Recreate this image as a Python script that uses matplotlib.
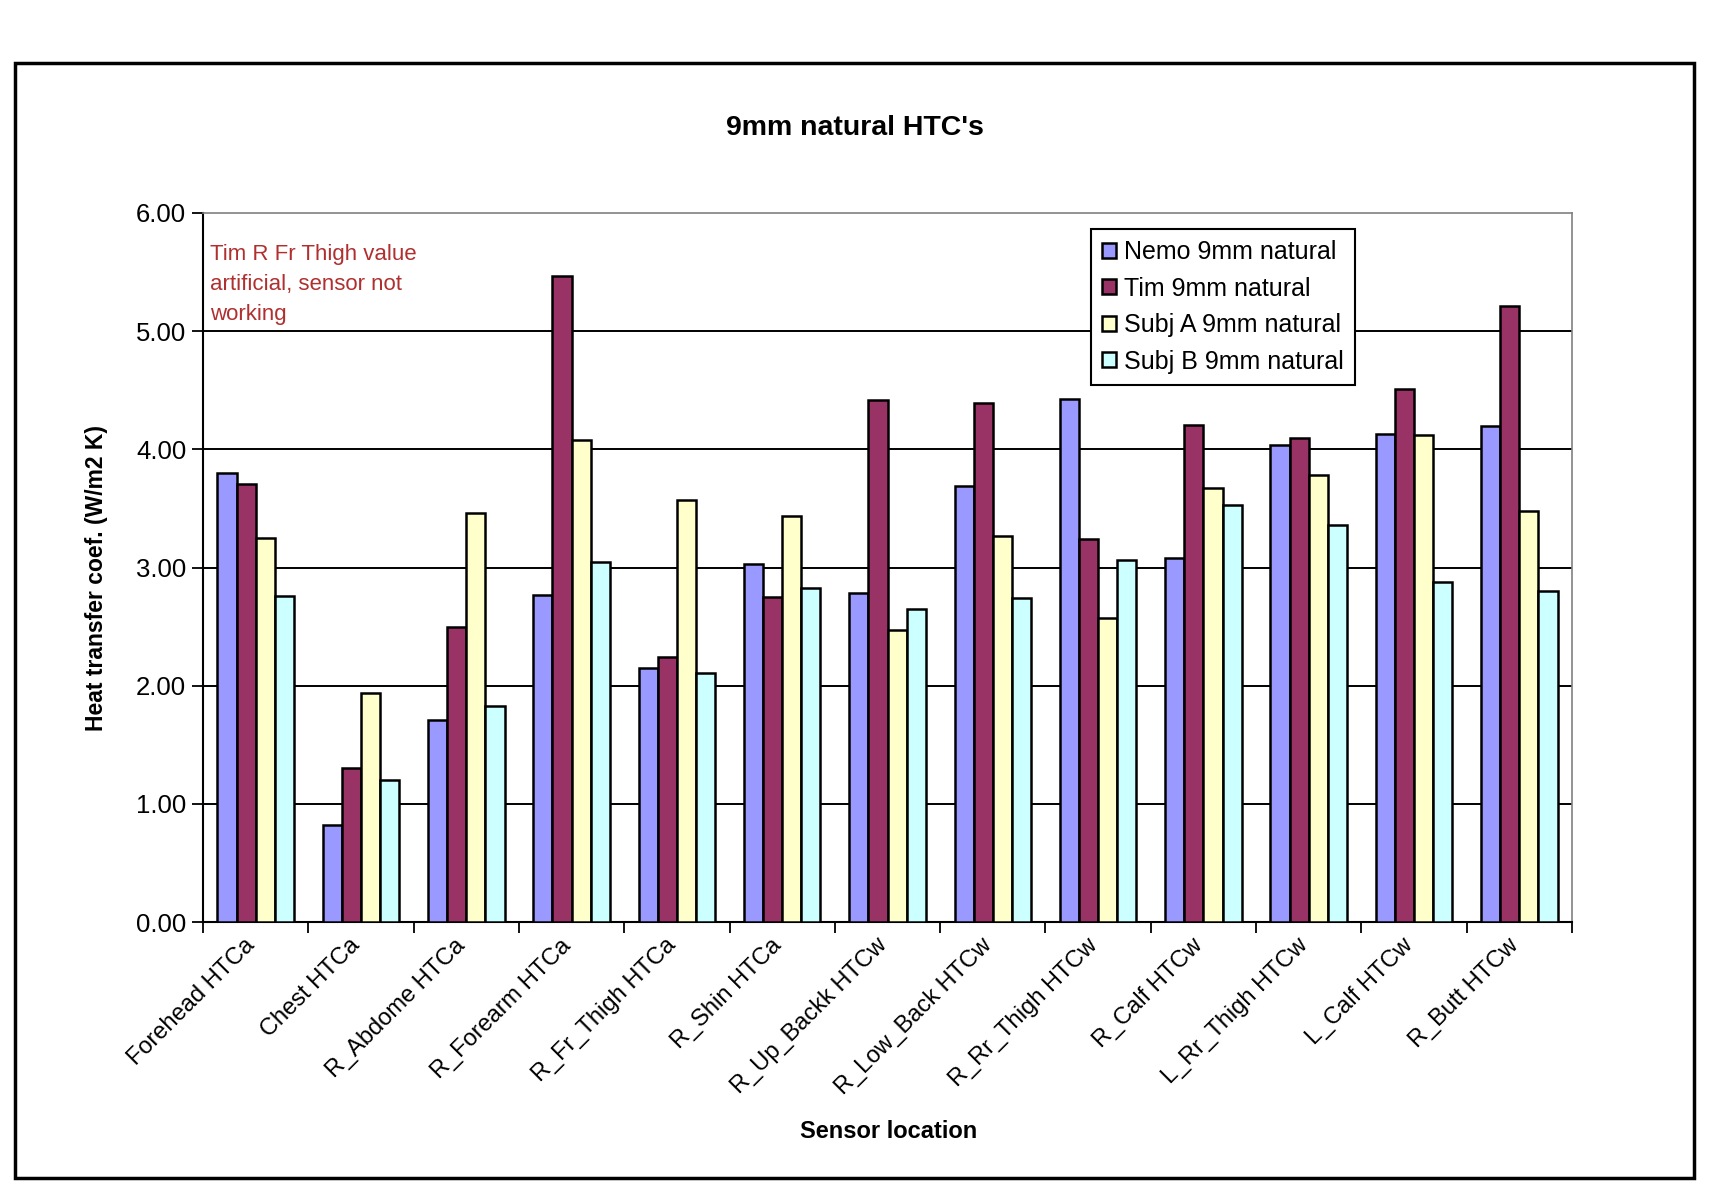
import matplotlib
matplotlib.use("Agg")
import matplotlib.pyplot as plt
import matplotlib.transforms as mtransforms
import numpy as np
from matplotlib.patches import Rectangle

categories = ["Forehead HTCa", "Chest HTCa", "R_Abdome HTCa", "R_Forearm HTCa",
              "R_Fr_Thigh HTCa", "R_Shin HTCa", "R_Up_Backk HTCw", "R_Low_Back HTCw",
              "R_Rr_Thigh HTCw", "R_Calf HTCw", "L_Rr_Thigh HTCw", "L_Calf HTCw",
              "R_Butt HTCw"]
nemo = [3.80, 0.82, 1.71, 2.77, 2.15, 3.03, 2.78, 3.69, 4.43, 3.08, 4.04, 4.13, 4.20]
tim = [3.71, 1.30, 2.50, 5.47, 2.24, 2.75, 4.42, 4.39, 3.24, 4.21, 4.10, 4.51, 5.21]
subj_a = [3.25, 1.94, 3.46, 4.08, 3.57, 3.44, 2.47, 3.27, 2.57, 3.67, 3.78, 4.12, 3.48]
subj_b = [2.76, 1.20, 1.83, 3.05, 2.11, 2.83, 2.65, 2.74, 3.06, 3.53, 3.36, 2.88, 2.80]
series_names = ["Nemo 9mm natural", "Tim 9mm natural", "Subj A 9mm natural", "Subj B 9mm natural"]
series_colors = ["#9999FF", "#993366", "#FFFFCC", "#CCFFFF"]
yticks = [0, 1, 2, 3, 4, 5, 6]

plt.rcParams['font.family'] = ['Liberation Sans', 'DejaVu Sans']

W, H = 1710, 1188
fig = plt.figure(figsize=(W / 100, H / 100), dpi=100)
fig.patch.set_facecolor("white")

# outer chart frame
fig.add_artist(Rectangle((15 / W, 1 - 1178 / H), (1694 - 15) / W, (1178 - 63) / H,
                         transform=fig.transFigure, fill=False, edgecolor="black",
                         linewidth=2.5))

ax_l, ax_r, ax_t, ax_b = 203, 1572, 213, 922
ax = fig.add_axes([ax_l / W, 1 - ax_b / H, (ax_r - ax_l) / W, (ax_b - ax_t) / H])

x = np.arange(len(categories))
w = 1 / 5.5
all_series = [nemo, tim, subj_a, subj_b]
for i, (vals, name, col) in enumerate(zip(all_series, series_names, series_colors)):
    ax.bar(x + (i - 1.5) * w, vals, width=w, color=col, edgecolor="black",
           linewidth=1.8, label=name, zorder=3)

ax.set_xlim(-0.5, len(categories) - 0.5)
ax.set_ylim(0, 6)
ax.set_yticks(yticks)
ax.set_yticklabels([f"{v:.2f}" for v in yticks])
for v in yticks[1:-1]:
    ax.axhline(v, color="black", linewidth=1.4, zorder=1)

ax.set_xticks(np.arange(-0.5, len(categories)), minor=False)
ax.set_xticklabels([])
ax.set_xticks(x, minor=True)
ax.set_xticklabels(categories, minor=True, rotation=45, ha="right",
                   rotation_mode="anchor", fontsize=17)
ax.tick_params(axis="x", which="minor", length=0, pad=9)
ax.tick_params(axis="x", which="major", length=8, width=1.3, direction="out")
ax.tick_params(axis="y", length=8, width=1.3, direction="out", labelsize=18.5, pad=4)
shift = mtransforms.ScaledTranslation(-12 / 100, 0, fig.dpi_scale_trans)
for lab in ax.get_xticklabels(minor=True):
    lab.set_transform(lab.get_transform() + shift)

for s in ["top", "right"]:
    ax.spines[s].set_color("#808080")
    ax.spines[s].set_linewidth(1.2)
for s in ["left", "bottom"]:
    ax.spines[s].set_color("black")
    ax.spines[s].set_linewidth(1.5)

ax.set_ylabel("Heat transfer coef. (W/m2 K)", fontsize=16.5, fontweight="bold")
ax.yaxis.set_label_coords((108 - ax_l) / (ax_r - ax_l), 1 - (578 - ax_t) / (ax_b - ax_t))
fig.text(889 / W, 1 - 1131 / H, "Sensor location", ha="center", va="center",
         fontsize=17, fontweight="bold")
fig.text(855 / W, 1 - 128 / H, "9mm natural HTC's", ha="center", va="center",
         fontsize=20.5, fontweight="bold")

ax.text(210 / W, 1 - 244 / H, "Tim R Fr Thigh value\nartificial, sensor not\nworking",
        transform=fig.transFigure, ha="left", va="top", fontsize=16,
        color="#B03030", linespacing=1.55)

leg = ax.legend(loc="upper left", bbox_to_anchor=((1091 - ax_l) / (ax_r - ax_l), 1 - (229 - ax_t) / (ax_b - ax_t)),
                fontsize=18, frameon=True, fancybox=False, framealpha=1,
                edgecolor="black", handlelength=0.55, handleheight=0.55,
                handletextpad=0.3, labelspacing=0.5, borderpad=0.45, borderaxespad=0)
leg.get_frame().set_linewidth(1.5)
leg.set_zorder(5)

fig.savefig("out.png", dpi=100, facecolor="white")
